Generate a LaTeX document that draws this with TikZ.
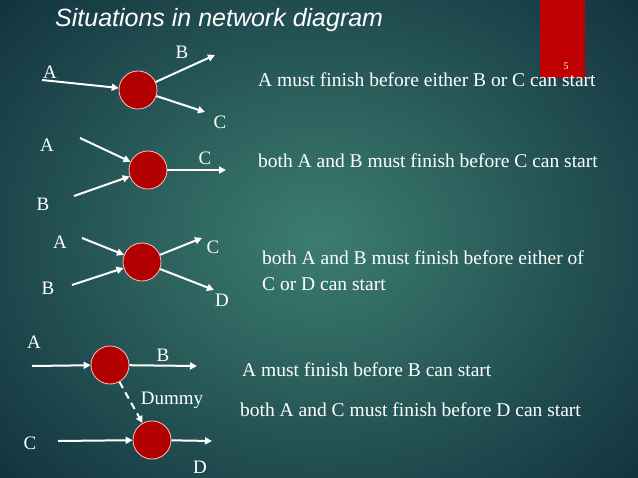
\documentclass[tikz,border=0pt]{standalone}
\usepackage{fontspec}
\setmainfont{Liberation Serif}
\setsansfont{Liberation Sans}
\usetikzlibrary{arrows.meta}
\begin{document}
\begin{tikzpicture}[x=1pt,y=-1pt,
  ev/.style={circle,fill=red!70!black,draw=red!25!white,line width=0.8pt,minimum size=38pt,inner sep=0pt},
  act/.style={white,line width=2pt,-{Triangle[length=7pt,width=7pt]}},
  lbl/.style={text=white,font=\fontsize{19}{19}\selectfont,inner sep=0pt},
  txt/.style={text=white,font=\fontsize{19.5}{26}\selectfont,inner sep=0pt,anchor=west,align=left}]
\useasboundingbox (0,0) rectangle (638,478);
\clip (0,0) rectangle (638,478);
\shade[inner color={rgb,255:red,60;green,125;blue,112},outer color={rgb,255:red,18;green,50;blue,62}] (-120,-120) rectangle (758,598);
\fill[red!75!black] (540,0) rectangle (585,78);
\node[text=white,font=\fontsize{10}{10}\selectfont] (pg) at (566,66) {5};
\node[text=white,font=\sffamily\itshape\fontsize{25}{25}\selectfont,anchor=west,inner sep=0pt] (title) at (55,20) {Situations in network diagram};
% group 1
\node[ev] (e1) at (138,90) {};
\coordinate (s1) at (42,80); \coordinate (b1) at (215,55); \coordinate (c1) at (205,112);
\draw[act] (s1) -- (e1); \draw[act] (e1) -- (b1); \draw[act] (e1) -- (c1);
\node[lbl] (la1) at (50,72) {A}; \node[lbl] (lb1) at (182,52) {B}; \node[lbl] (lc1) at (220,122) {C};
\node[txt] (t1) at (258,80) {A must finish before either B or C can start};
% group 2
\node[ev] (e2) at (148,170) {};
\coordinate (s2a) at (80,138); \coordinate (s2b) at (74,196); \coordinate (c2) at (226,170);
\draw[act] (s2a) -- (e2); \draw[act] (s2b) -- (e2); \draw[act] (e2) -- (c2);
\node[lbl] (la2) at (47,145) {A}; \node[lbl] (lb2) at (43,204) {B}; \node[lbl] (lc2) at (205,158) {C};
\node[txt] (t2) at (258,161) {both A and B must finish before C can start};
% group 3
\node[ev] (e3) at (142,262) {};
\coordinate (s3a) at (82,238); \coordinate (s3b) at (72,285); \coordinate (c3) at (202,238); \coordinate (d3) at (214,290);
\draw[act] (s3a) -- (e3); \draw[act] (s3b) -- (e3); \draw[act] (e3) -- (c3); \draw[act] (e3) -- (d3);
\node[lbl] (la3) at (60,242) {A}; \node[lbl] (lb3) at (48,288) {B}; \node[lbl] (lc3) at (213,247) {C}; \node[lbl] (ld3) at (222,300) {D};
\node[txt] (t3) at (262,271) {both A and B must finish before either of\\C or D can start};
% group 4
\node[ev] (e4) at (110,365) {};
\node[ev] (e5) at (152,440) {};
\coordinate (s4) at (32,366); \coordinate (b4) at (197,366); \coordinate (s5) at (58,441); \coordinate (d5) at (212,441);
\draw[act] (s4) -- (e4); \draw[act] (e4) -- (b4); \draw[act] (s5) -- (e5); \draw[act] (e5) -- (d5);
\draw[act,dash pattern=on 7pt off 5pt,line cap=butt] (e4) -- (e5);
\node[lbl] (la4) at (34,342) {A}; \node[lbl] (lb4) at (163,355) {B}; \node[lbl] (ldm) at (172,400) {Dummy};
\node[lbl] (lc5) at (30,443) {C}; \node[lbl] (ld5) at (200,467) {D};
\node[txt] (t4) at (242,370) {A must finish before B can start};
\node[txt] (t5) at (240,410) {both A and C must finish before D can start};
\end{tikzpicture}
\end{document}
